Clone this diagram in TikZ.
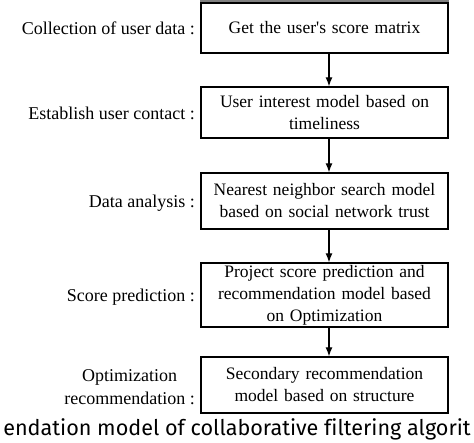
\documentclass[tikz,border=0pt]{standalone}
\usepackage{fontspec}
\setmainfont{Liberation Serif}
\newfontfamily\capfont[Ligatures=NoCommon]{Fira Sans}
\usetikzlibrary{arrows.meta}

\begin{document}
\begin{tikzpicture}[x=1pt,y=-1pt,
  stage/.style={draw,line width=1.3pt,minimum width=247pt,text width=237pt,align=center,inner sep=0pt,font=\fontsize{17.5}{22}\selectfont},
  tag/.style={anchor=east,align=center,inner sep=0pt,font=\fontsize{18}{22.5}\selectfont},
  flow/.style={line width=1.3pt,-{Latex[length=9pt,width=7pt]}}]
\useasboundingbox (0,0) rectangle (474,443);
\fill[gray] (200,0) rectangle (449,3.5);
\node[stage,minimum height=50pt] (get) at (324.5,28) {Get the user\textquotesingle s score matrix};
\node[stage,minimum height=51pt] (interest) at (324.5,112.5) {User interest model based on\\timeliness};
\node[stage,minimum height=56pt] (trust) at (324.5,201) {Nearest neighbor search model\\based on social network trust};
\node[stage,minimum height=64pt] (predict) at (324.5,295) {Project score prediction and\\recommendation model based\\on Optimization};
\node[stage,minimum height=56pt] (second) at (324.5,385) {Secondary recommendation\\model based on structure};
\node[tag] (collect) at (195,28) {Collection of user data :};
\node[tag] (contact) at (195,113) {Establish user contact :};
\node[tag] (analysis) at (195,203) {Data analysis :};
\node[tag] (score) at (195,297) {Score prediction :};
\node[tag] (optim) at (195,387) {Optimization\\recommendation :};
\draw[flow] ([xshift=4.5pt]get.south) -- ([xshift=4.5pt]interest.north);
\draw[flow] ([xshift=4.5pt]interest.south) -- ([xshift=4.5pt]trust.north);
\draw[flow] ([xshift=4.5pt]trust.south) -- ([xshift=4.5pt]predict.north);
\draw[flow] ([xshift=4.5pt]predict.south) -- ([xshift=4.5pt]second.north);
\node[font=\capfont\fontsize{21.6}{24}\selectfont] (caption) at (237,429) {endation model of collaborative filtering algorit};
\end{tikzpicture}
\end{document}
